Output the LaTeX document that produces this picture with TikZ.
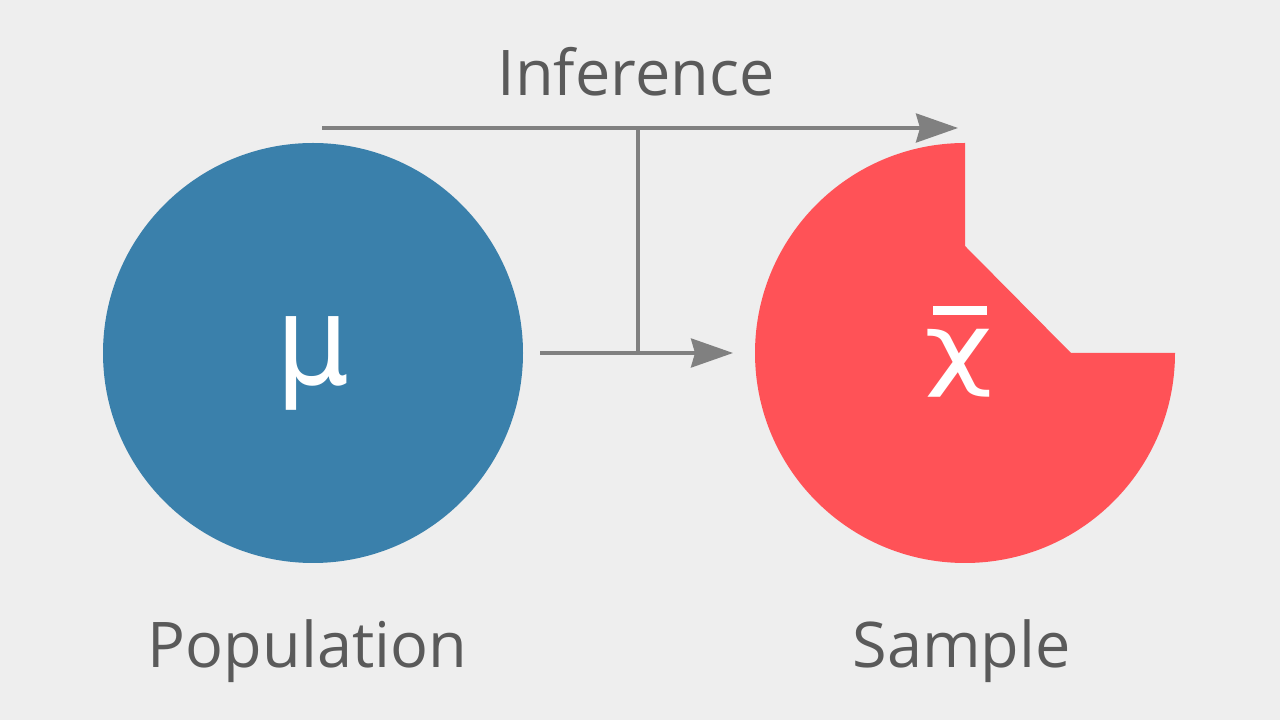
\documentclass[tikz,border=0pt]{standalone}
\usepackage{fontspec}
\setmainfont{Open Sans}
\newfontfamily\symfont{DejaVu Sans}
\usetikzlibrary{arrows.meta}
\definecolor{bgc}{HTML}{EEEEEE}
\definecolor{bluec}{HTML}{3A80AB}
\definecolor{redc}{HTML}{FF5257}
\definecolor{txtc}{HTML}{5A5A5A}
\definecolor{linec}{HTML}{808080}
\tikzset{
  x=1pt,y=1pt,
  conn/.style={draw=linec,line width=3.5pt},
  arr/.style={conn,-{Stealth[length=42pt,width=29pt,inset=4pt]}},
  lbl/.style={text=txtc,font=\fontsize{63}{63}\selectfont,inner sep=0pt,anchor=base},
  sym/.style={text=white,inner sep=0pt,anchor=base},
}
\begin{document}
\begin{tikzpicture}
\useasboundingbox (0,0) rectangle (1280,720);
\fill[bgc] (0,0) rectangle (1280,720);
\node[circle,fill=bluec,minimum size=420pt,inner sep=0pt] (pop) at (313,367) {};
\fill[redc] (965,577) arc[start angle=90,end angle=360,radius=210] -- (1071,367) -- (965,474) -- cycle;
\coordinate (topstart) at (322,592);
\coordinate (topend) at (958,592);
\coordinate (topjoin) at (638,592);
\coordinate (midjoin) at (638,367);
\coordinate (midstart) at (540,367);
\coordinate (midend) at (733,367);
\draw[conn] (topjoin) -- (midjoin);
\draw[arr] (topstart) -- (topend);
\draw[arr] (midstart) -- (midend);
\node[lbl] (inf) at (636,624) {Inference};
\node[lbl] (popl) at (307.5,52) {Population};
\node[lbl] (samp) at (961.5,52) {Sample};
\node[sym,font=\fontsize{115}{115}\selectfont\symfont] (mu) at (313,335) {\scalebox{1}[1.08]{μ}};
\node[sym,font=\fontsize{90}{90}\selectfont\symfont] (xbar) at (958.5,341) {\scalebox{1.32}[1]{χ}};
\fill[white] (933,405) rectangle (987,414);
\end{tikzpicture}
\end{document}
